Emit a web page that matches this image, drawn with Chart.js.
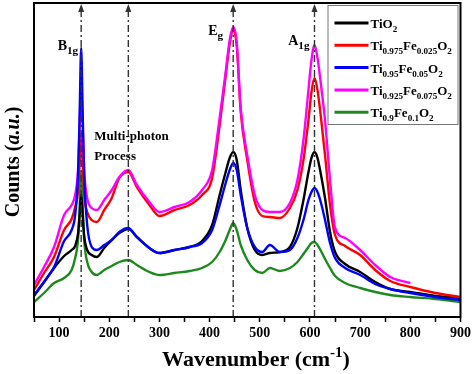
<!DOCTYPE html>
<html>
<head>
<meta charset="utf-8">
<title>Raman spectra</title>
<script src="https://cdn.jsdelivr.net/npm/chart.js@4.4.1/dist/chart.umd.min.js"></script>
<style>
  body { margin: 0; background: #fff; }
  #wrap { width: 474px; height: 374px; }
</style>
</head>
<body>
<div id="wrap"><canvas id="ramanChart" width="474" height="374"></canvas></div>
<script>
// wavenumber grid (cm-1) shared by all spectra
var wavenumbers = [50, 70, 90, 110, 125, 132, 138, 141, 144, 147, 150, 156, 165, 175, 190, 205, 220, 238, 255, 280,
  300, 330, 360, 385, 405, 420, 432, 440, 447, 454, 462, 475, 490, 505, 520, 540, 560, 575, 587, 597,
  603, 609, 615, 622, 630, 640, 650, 670, 700, 730, 760, 800, 850, 900];

// intensities (a.u.)
var tio2 = [21, 35, 49, 61, 67, 71, 84, 102, 122, 102, 81, 67, 62, 60, 69, 77, 84, 88, 80, 69,
  64, 67, 70, 76, 92, 122, 145, 159, 165, 157, 127, 89, 67, 62, 64, 65, 70, 89, 117, 145,
  159, 165, 159, 142, 119, 85, 65, 53, 45, 35, 28, 25, 21, 19];
var fe025 = [27, 44, 60, 87, 98, 110, 127, 154, 184, 152, 122, 105, 97, 95, 107, 119, 139, 145, 130, 112,
  101, 107, 112, 122, 139, 192, 241, 273, 287, 271, 205, 157, 115, 101, 100, 99, 109, 127, 157, 197,
  225, 239, 227, 199, 162, 112, 82, 71, 62, 47, 36, 30, 24, 20];
var fe05 = [22, 35, 50, 76, 87, 102, 145, 204, 269, 204, 142, 92, 70, 67, 72, 77, 85, 89, 80, 69,
  64, 67, 70, 74, 87, 112, 134, 147, 154, 147, 122, 89, 70, 65, 72, 65, 67, 79, 97, 117,
  125, 129, 125, 114, 97, 74, 59, 49, 42, 33, 28, 24, 20, 17];
var fe075 = [32, 50, 70, 102, 112, 122, 149, 192, 239, 192, 147, 119, 109, 107, 117, 127, 140, 147, 132, 115,
  105, 110, 115, 127, 147, 199, 245, 277, 290, 275, 209, 162, 122, 107, 105, 105, 114, 137, 177, 227,
  257, 272, 259, 232, 197, 137, 89, 79, 67, 52, 40, 34, null, null];
var fe1 = [15, 24, 34, 39, 47, 59, 79, 111, 145, 111, 77, 55, 45, 42, 47, 51, 55, 57, 52, 45,
  42, 44, 46, 49, 55, 65, 77, 87, 94, 87, 72, 57, 47, 44, 49, 46, 49, 55, 63, 70,
  74, 75, 72, 66, 58, 49, 41, 34, 29, 25, 22, 20, 18, 15];

var seriesNames = ['TiO_{2}', 'Ti_{0.975}Fe_{0.025}O_{2}', 'Ti_{0.95}Fe_{0.05}O_{2}', 'Ti_{0.925}Fe_{0.075}O_{2}', 'Ti_{0.9}Fe_{0.1}O_{2}'];
var seriesColors = ['#000000', '#ff0000', '#0000ff', '#ff00ff', '#1e8a1e'];
var seriesValues = [tio2, fe025, fe05, fe075, fe1];

// Raman modes marked with dashed lines
var peakPositions = [144, 238, 447, 609];
var xTicks = [100, 200, 300, 400, 500, 600, 700, 800, 900];

var FAM = '"Liberation Serif", "Times New Roman", serif';

// small markup: _{sub} ^{sup} *italic*
function parseRich(str) {
  var out = [];
  str.split(/(_\{[^}]*\}|\^\{[^}]*\}|\*[^*]*\*)/).forEach(function (p) {
    if (!p) return;
    if (p[0] === '_') out.push({ t: p.slice(2, -1), m: 'sub' });
    else if (p[0] === '^') out.push({ t: p.slice(2, -1), m: 'sup' });
    else if (p[0] === '*') out.push({ t: p.slice(1, -1), m: 'it' });
    else out.push({ t: p, m: '' });
  });
  return out;
}

function drawRich(ctx, str, x, y, size, align, ratio) {
  var parts = parseRich(str);
  ratio = ratio || 0.7;
  function font(p) {
    var s = (p.m === 'sub' || p.m === 'sup') ? size * ratio : size;
    return (p.m === 'it' ? 'italic ' : '') + 'bold ' + s + 'px ' + FAM;
  }
  var total = 0;
  parts.forEach(function (p) {
    ctx.font = font(p);
    p.w = ctx.measureText(p.t).width;
    total += p.w;
  });
  var cx = align === 'center' ? x - total / 2 : (align === 'right' ? x - total : x);
  ctx.textAlign = 'left';
  ctx.textBaseline = 'alphabetic';
  parts.forEach(function (p) {
    ctx.font = font(p);
    var dy = p.m === 'sub' ? size * 0.3 : (p.m === 'sup' ? -size * 0.4 : 0);
    ctx.fillText(p.t, cx, y + dy);
    cx += p.w;
  });
}

// frame, mode lines, labels, legend and axis titles
var overlay = {
  id: 'overlay',
  afterDatasetsDraw: function (chart) {
    var ctx = chart.ctx;
    var a = chart.chartArea;
    var xs = chart.scales.x;
    ctx.save();

    // dash-dot lines with arrow heads
    ctx.strokeStyle = '#333';
    ctx.fillStyle = '#333';
    ctx.lineWidth = 1.4;
    peakPositions.forEach(function (p) {
      var px = xs.getPixelForValue(p);
      ctx.setLineDash([7, 3, 2, 3]);
      ctx.beginPath();
      ctx.moveTo(px, a.bottom);
      ctx.lineTo(px, a.top + 8);
      ctx.stroke();
      ctx.setLineDash([]);
      ctx.beginPath();
      ctx.moveTo(px, a.top + 1);
      ctx.lineTo(px - 3, a.top + 9);
      ctx.lineTo(px + 3, a.top + 9);
      ctx.closePath();
      ctx.fill();
    });

    // plot frame
    ctx.strokeStyle = '#000';
    ctx.lineWidth = 2;
    ctx.strokeRect(a.left, a.top, a.right - a.left, a.bottom - a.top);

    // mode labels
    ctx.fillStyle = '#000';
    var p0 = xs.getPixelForValue(peakPositions[0]);
    var p1 = xs.getPixelForValue(peakPositions[1]);
    var p2 = xs.getPixelForValue(peakPositions[2]);
    var p3 = xs.getPixelForValue(peakPositions[3]);
    drawRich(ctx, 'B_{1g}', p0 - 3, a.top + 47, 14, 'right', 0.8);
    drawRich(ctx, 'E_{g}', p2 - 10, a.top + 32, 14, 'right', 0.8);
    drawRich(ctx, 'A_{1g}', p3 - 5, a.top + 42, 14, 'right', 0.8);
    drawRich(ctx, 'Multi-photon', p1 - 34, a.top + 137, 13, 'left');
    drawRich(ctx, 'Process', p1 - 34, a.top + 157, 13, 'left');

    // legend
    var bx = a.right - 133, by = a.top + 2, bw = 130, bh = 119;
    ctx.fillStyle = '#fff';
    ctx.fillRect(bx, by, bw, bh);
    ctx.strokeStyle = '#777';
    ctx.lineWidth = 1;
    ctx.strokeRect(bx + 0.5, by + 0.5, bw, bh);
    seriesNames.forEach(function (name, i) {
      var ry = by + 18 + i * 22.3;
      ctx.strokeStyle = seriesColors[i];
      ctx.lineWidth = 3;
      ctx.beginPath();
      ctx.moveTo(bx + 7, ry);
      ctx.lineTo(bx + 41, ry);
      ctx.stroke();
      ctx.fillStyle = '#000';
      drawRich(ctx, name, bx + 43, ry + 5, 13, 'left', 0.7);
    });

    // axis titles
    ctx.fillStyle = '#000';
    drawRich(ctx, 'Wavenumber (cm^{-1})', 256, 366, 22, 'center', 0.68);
    ctx.translate(19, (a.top + a.bottom) / 2 + 2);
    ctx.rotate(-Math.PI / 2);
    drawRich(ctx, 'Counts (*a.u.*)', 0, 0, 20, 'center');
    ctx.restore();
  }
};

// datasets: first one is drawn on top
var drawOrder = [2, 3, 1, 0, 4];
var datasets = drawOrder.map(function (k) {
  return {
    label: seriesNames[k].replace(/[_{}]/g, ''),
    data: wavenumbers.map(function (w, i) { return { x: w, y: seriesValues[k][i] }; }),
    borderColor: seriesColors[k],
    backgroundColor: seriesColors[k],
    borderWidth: 2.4,
    pointRadius: 0,
    fill: false,
    cubicInterpolationMode: 'monotone',
    spanGaps: false
  };
});

var tickFont = { family: FAM, size: 14, weight: 'bold' };

new Chart(document.getElementById('ramanChart').getContext('2d'), {
  type: 'line',
  data: { datasets: datasets },
  options: {
    responsive: false,
    animation: false,
    layout: { padding: { top: 3, right: 12, left: 0, bottom: 0 } },
    plugins: {
      legend: { display: false },
      tooltip: { enabled: false }
    },
    scales: {
      x: {
        type: 'linear',
        min: 50,
        max: 900,
        afterBuildTicks: function (scale) {
          var t = [];
          for (var v = 50; v <= 900; v += 50) t.push({ value: v });
          scale.ticks = t;
        },
        ticks: {
          autoSkip: false,
          maxRotation: 0,
          color: '#000',
          font: tickFont,
          padding: 3,
          callback: function (v) { return xTicks.indexOf(v) >= 0 ? String(v) : ''; }
        },
        grid: { drawOnChartArea: false, drawTicks: true, tickLength: 5, tickColor: '#000', tickWidth: 1.5 },
        border: { color: '#000', width: 2 },
        afterFit: function (scale) { scale.height = 57; }
      },
      y: {
        min: 0,
        max: 314,
        ticks: { display: false },
        grid: { display: false },
        border: { color: '#000', width: 2 },
        afterFit: function (scale) { scale.width = 34; }
      }
    }
  },
  plugins: [overlay]
});
</script>
</body>
</html>
